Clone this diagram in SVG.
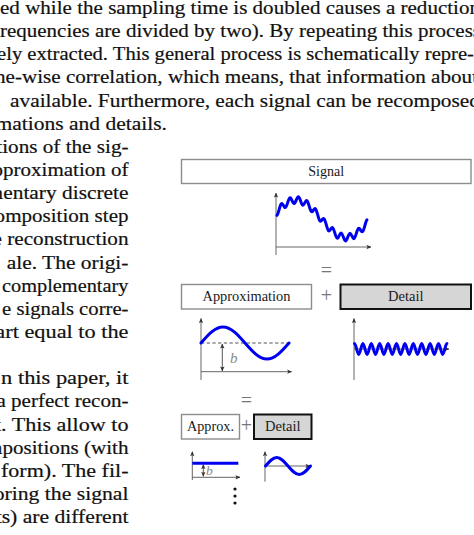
<svg xmlns="http://www.w3.org/2000/svg" width="474" height="535" viewBox="0 0 474 535">
<defs>
<marker id="ah" viewBox="0 0 6 6" refX="5.5" refY="3" markerWidth="5" markerHeight="5" orient="auto-start-reverse" markerUnits="userSpaceOnUse">
<path d="M0,0.4 L6,3 L0,5.6 L1.4,3 Z" fill="#333"/>
</marker>
</defs>
<style>
.body{font-family:"Liberation Serif","Times New Roman",serif;font-size:19.6px;fill:#111;stroke:#111;stroke-width:0.2}
.lbl{font-family:"Liberation Serif","Times New Roman",serif;font-size:14.6px;fill:#1a1a1a;text-anchor:middle}
.op{font-family:"Liberation Serif","Times New Roman",serif;font-size:20px;fill:#777;text-anchor:middle}
.box{fill:#fff;stroke:#8c8c8c;stroke-width:1.4}
.dbox{fill:#d6d6d6;stroke:#111;stroke-width:2}
.axa{stroke:#666;stroke-width:1;fill:none;marker-end:url(#ah)}
.wave{stroke:#0000f0;stroke-width:3;fill:none;stroke-linecap:round;stroke-linejoin:round}
.flat{stroke:#0000f0;stroke-width:3;fill:none}
.dash{stroke:#555;stroke-width:1;stroke-dasharray:3.3 2.4;fill:none}
.barr{stroke:#555;stroke-width:1;fill:none;marker-start:url(#ah);marker-end:url(#ah)}
.b{font-family:"Liberation Serif","Times New Roman",serif;font-style:italic;font-size:15px;fill:#888}
</style>
<rect width="474" height="535" fill="#fff"/>
<g id="body-text" class="body">
<text x="0" y="13.9" textLength="480" lengthAdjust="spacingAndGlyphs">ed while the sampling time is doubled causes a reduction</text>
<text x="0" y="37.05" textLength="481" lengthAdjust="spacingAndGlyphs">requencies are divided by two).  By repeating this process</text>
<text x="-3" y="60.2" textLength="477" lengthAdjust="spacingAndGlyphs">ely extracted.  This general process is schematically repre-</text>
<text x="-5" y="83.35" textLength="483" lengthAdjust="spacingAndGlyphs">ne-wise correlation, which means, that information about</text>
<text x="10" y="106.5" textLength="470" lengthAdjust="spacingAndGlyphs">available.  Furthermore, each signal can be recomposed</text>
<text x="-4.6" y="129.65" textLength="171.6" lengthAdjust="spacingAndGlyphs">mations and details.</text>
<text x="-3.7" y="152.8" textLength="132.2" lengthAdjust="spacingAndGlyphs">tions of the sig-</text>
<text x="-7.4" y="175.95" textLength="135.9" lengthAdjust="spacingAndGlyphs">pproximation of</text>
<text x="-13.4" y="199.1" textLength="141.9" lengthAdjust="spacingAndGlyphs">mentary discrete</text>
<text x="-5.4" y="222.25" textLength="133.9" lengthAdjust="spacingAndGlyphs">omposition step</text>
<text x="-7.5" y="245.4" textLength="136" lengthAdjust="spacingAndGlyphs">e reconstruction</text>
<text x="6.7" y="268.55" textLength="121.8" lengthAdjust="spacingAndGlyphs">ale.  The origi-</text>
<text x="2" y="291.7" textLength="126.5" lengthAdjust="spacingAndGlyphs">complementary</text>
<text x="2.1" y="314.85" textLength="126.4" lengthAdjust="spacingAndGlyphs">e signals corre-</text>
<text x="-4.7" y="338" textLength="133.2" lengthAdjust="spacingAndGlyphs">art equal to the</text>
<text x="1.1" y="384.3" textLength="127.4" lengthAdjust="spacingAndGlyphs">n this paper, it</text>
<text x="-3.6" y="407.45" textLength="132.1" lengthAdjust="spacingAndGlyphs">a perfect recon-</text>
<text x="-5.2" y="430.6" textLength="133.7" lengthAdjust="spacingAndGlyphs">t. This allow to</text>
<text x="-14" y="453.75" textLength="142.5" lengthAdjust="spacingAndGlyphs">mpositions (with</text>
<text x="1" y="476.9" textLength="127.5" lengthAdjust="spacingAndGlyphs">form).  The fil-</text>
<text x="-6.3" y="500.05" textLength="134.8" lengthAdjust="spacingAndGlyphs">oring the signal</text>
<text x="-4.3" y="523.2" textLength="132.8" lengthAdjust="spacingAndGlyphs">ts) are different</text>
</g>
<g id="signal">
<rect class="box" x="181.5" y="159.5" width="289.5" height="24"/>
<text class="lbl" x="326.2" y="175.5" textLength="36" lengthAdjust="spacingAndGlyphs">Signal</text>
<path class="axa" d="M276,255 V193"/>
<path class="axa" d="M276,247 H371"/>
<path class="wave" d="M277,215.32 C278.56,213.62 279.73,205.39 281.29,203.93 C282.85,202.47 284.01,208.49 285.57,207.37 C287.13,206.26 288.3,198.57 289.86,197.88 C291.42,197.19 292.58,203.84 294.14,203.63 C295.7,203.42 296.87,196.44 298.43,196.72 C299.99,197 301.15,204.39 302.71,205.14 C304.27,205.89 305.44,199.62 307,200.79 C308.56,201.96 309.73,209.98 311.29,211.48 C312.85,212.98 314.01,207.23 315.57,208.95 C317.13,210.67 318.3,219.04 319.86,220.86 C321.42,222.69 322.58,217.08 324.14,218.87 C325.7,220.66 326.87,228.98 328.43,230.61 C329.99,232.24 331.15,226.4 332.71,227.76 C334.27,229.12 335.44,237.06 337,238.03 C338.56,239 339.73,232.56 341.29,233.09 C342.85,233.62 344.01,240.84 345.57,240.89 C347.13,240.94 348.3,233.8 349.86,233.36 C351.42,232.92 352.58,239.4 354.14,238.51 C355.7,237.62 356.87,229.7 358.43,228.4 C359.99,227.1 361.15,233.1 362.71,231.51 C364.27,229.92 365.44,221.62 367,219.85"/>
</g>
<g id="approximation">
<rect class="box" x="181.5" y="284.5" width="130" height="24.5"/>
<text class="lbl" x="246.5" y="301" textLength="88" lengthAdjust="spacingAndGlyphs">Approximation</text>
<path class="axa" d="M201,380 V318.5"/>
<path class="axa" d="M201,371.7 H291.7"/>
<path class="dash" d="M201,343 H290"/>
<path class="barr" d="M222.3,344 V371"/>
<text class="b" x="230" y="363">b</text>
<path class="wave" d="M201,343 C208.18,334.8 215.04,327 223,327 C230.96,327 237.82,334.8 245,343 C252.18,351.2 259.04,359 267,359 C274.96,359 281.82,351.2 289,343"/>
</g>
<g id="detail">
<rect class="dbox" x="340.5" y="284.5" width="130.5" height="24.5"/>
<text class="lbl" x="405.75" y="301" textLength="35.5" lengthAdjust="spacingAndGlyphs">Detail</text>
<path class="axa" d="M354,380 V318.5"/>
<path class="axa" d="M354,349 H449"/>
<path class="wave" d="M354.5,343.5 C356.03,343.5 357.17,354.5 358.7,354.5 S361.37,343.5 362.9,343.5 S365.57,354.5 367.1,354.5 S369.77,343.5 371.3,343.5 S373.97,354.5 375.5,354.5 S378.17,343.5 379.7,343.5 S382.37,354.5 383.9,354.5 S386.57,343.5 388.1,343.5 S390.77,354.5 392.3,354.5 S394.97,343.5 396.5,343.5 S399.17,354.5 400.7,354.5 S403.37,343.5 404.9,343.5 S407.57,354.5 409.1,354.5 S411.77,343.5 413.3,343.5 S415.97,354.5 417.5,354.5 S420.17,343.5 421.7,343.5 S424.37,354.5 425.9,354.5 S428.57,343.5 430.1,343.5 S432.77,354.5 434.3,354.5 S436.97,343.5 438.5,343.5 S441.17,354.5 442.7,354.5 S445.37,343.5 446.9,343.5"/>
</g>
<g id="approx-level2">
<rect class="box" x="181.5" y="414.5" width="58" height="24.5"/>
<text class="lbl" x="210.5" y="430.8" textLength="47" lengthAdjust="spacingAndGlyphs">Approx.</text>
<path class="axa" d="M192.3,480 V451.7"/>
<path class="axa" d="M192.3,477.3 H240"/>
<path class="flat" d="M192.3,463.3 H238.3"/>
<path class="barr" d="M203.3,464.5 V476.3"/>
<text class="b" x="206" y="474.5" style="font-size:13.5px">b</text>
</g>
<g id="detail-level2">
<rect class="dbox" x="254" y="414.5" width="57.5" height="24.5"/>
<text class="lbl" x="282.75" y="430.8" textLength="35.5" lengthAdjust="spacingAndGlyphs">Detail</text>
<path class="axa" d="M265,481.7 V451.7"/>
<path class="axa" d="M265,466 H310"/>
<path class="wave" d="M265.5,466 C269.17,461.65 272.68,457.5 276.75,457.5 C280.82,457.5 284.33,461.65 288,466 C291.67,470.35 295.18,474.5 299.25,474.5 C303.32,474.5 306.83,470.35 310.5,466"/>
</g>
<g id="continuation" fill="#111">
<circle cx="235" cy="489" r="1.6"/>
<circle cx="235" cy="496" r="1.6"/>
<circle cx="235" cy="503" r="1.6"/>
</g>
<g id="connectors" class="op">
<text x="326.5" y="276.7">=</text>
<text x="326.5" y="301.7">+</text>
<text x="246.5" y="406.7">=</text>
<text x="246.5" y="431.7">+</text>
</g>
</svg>
